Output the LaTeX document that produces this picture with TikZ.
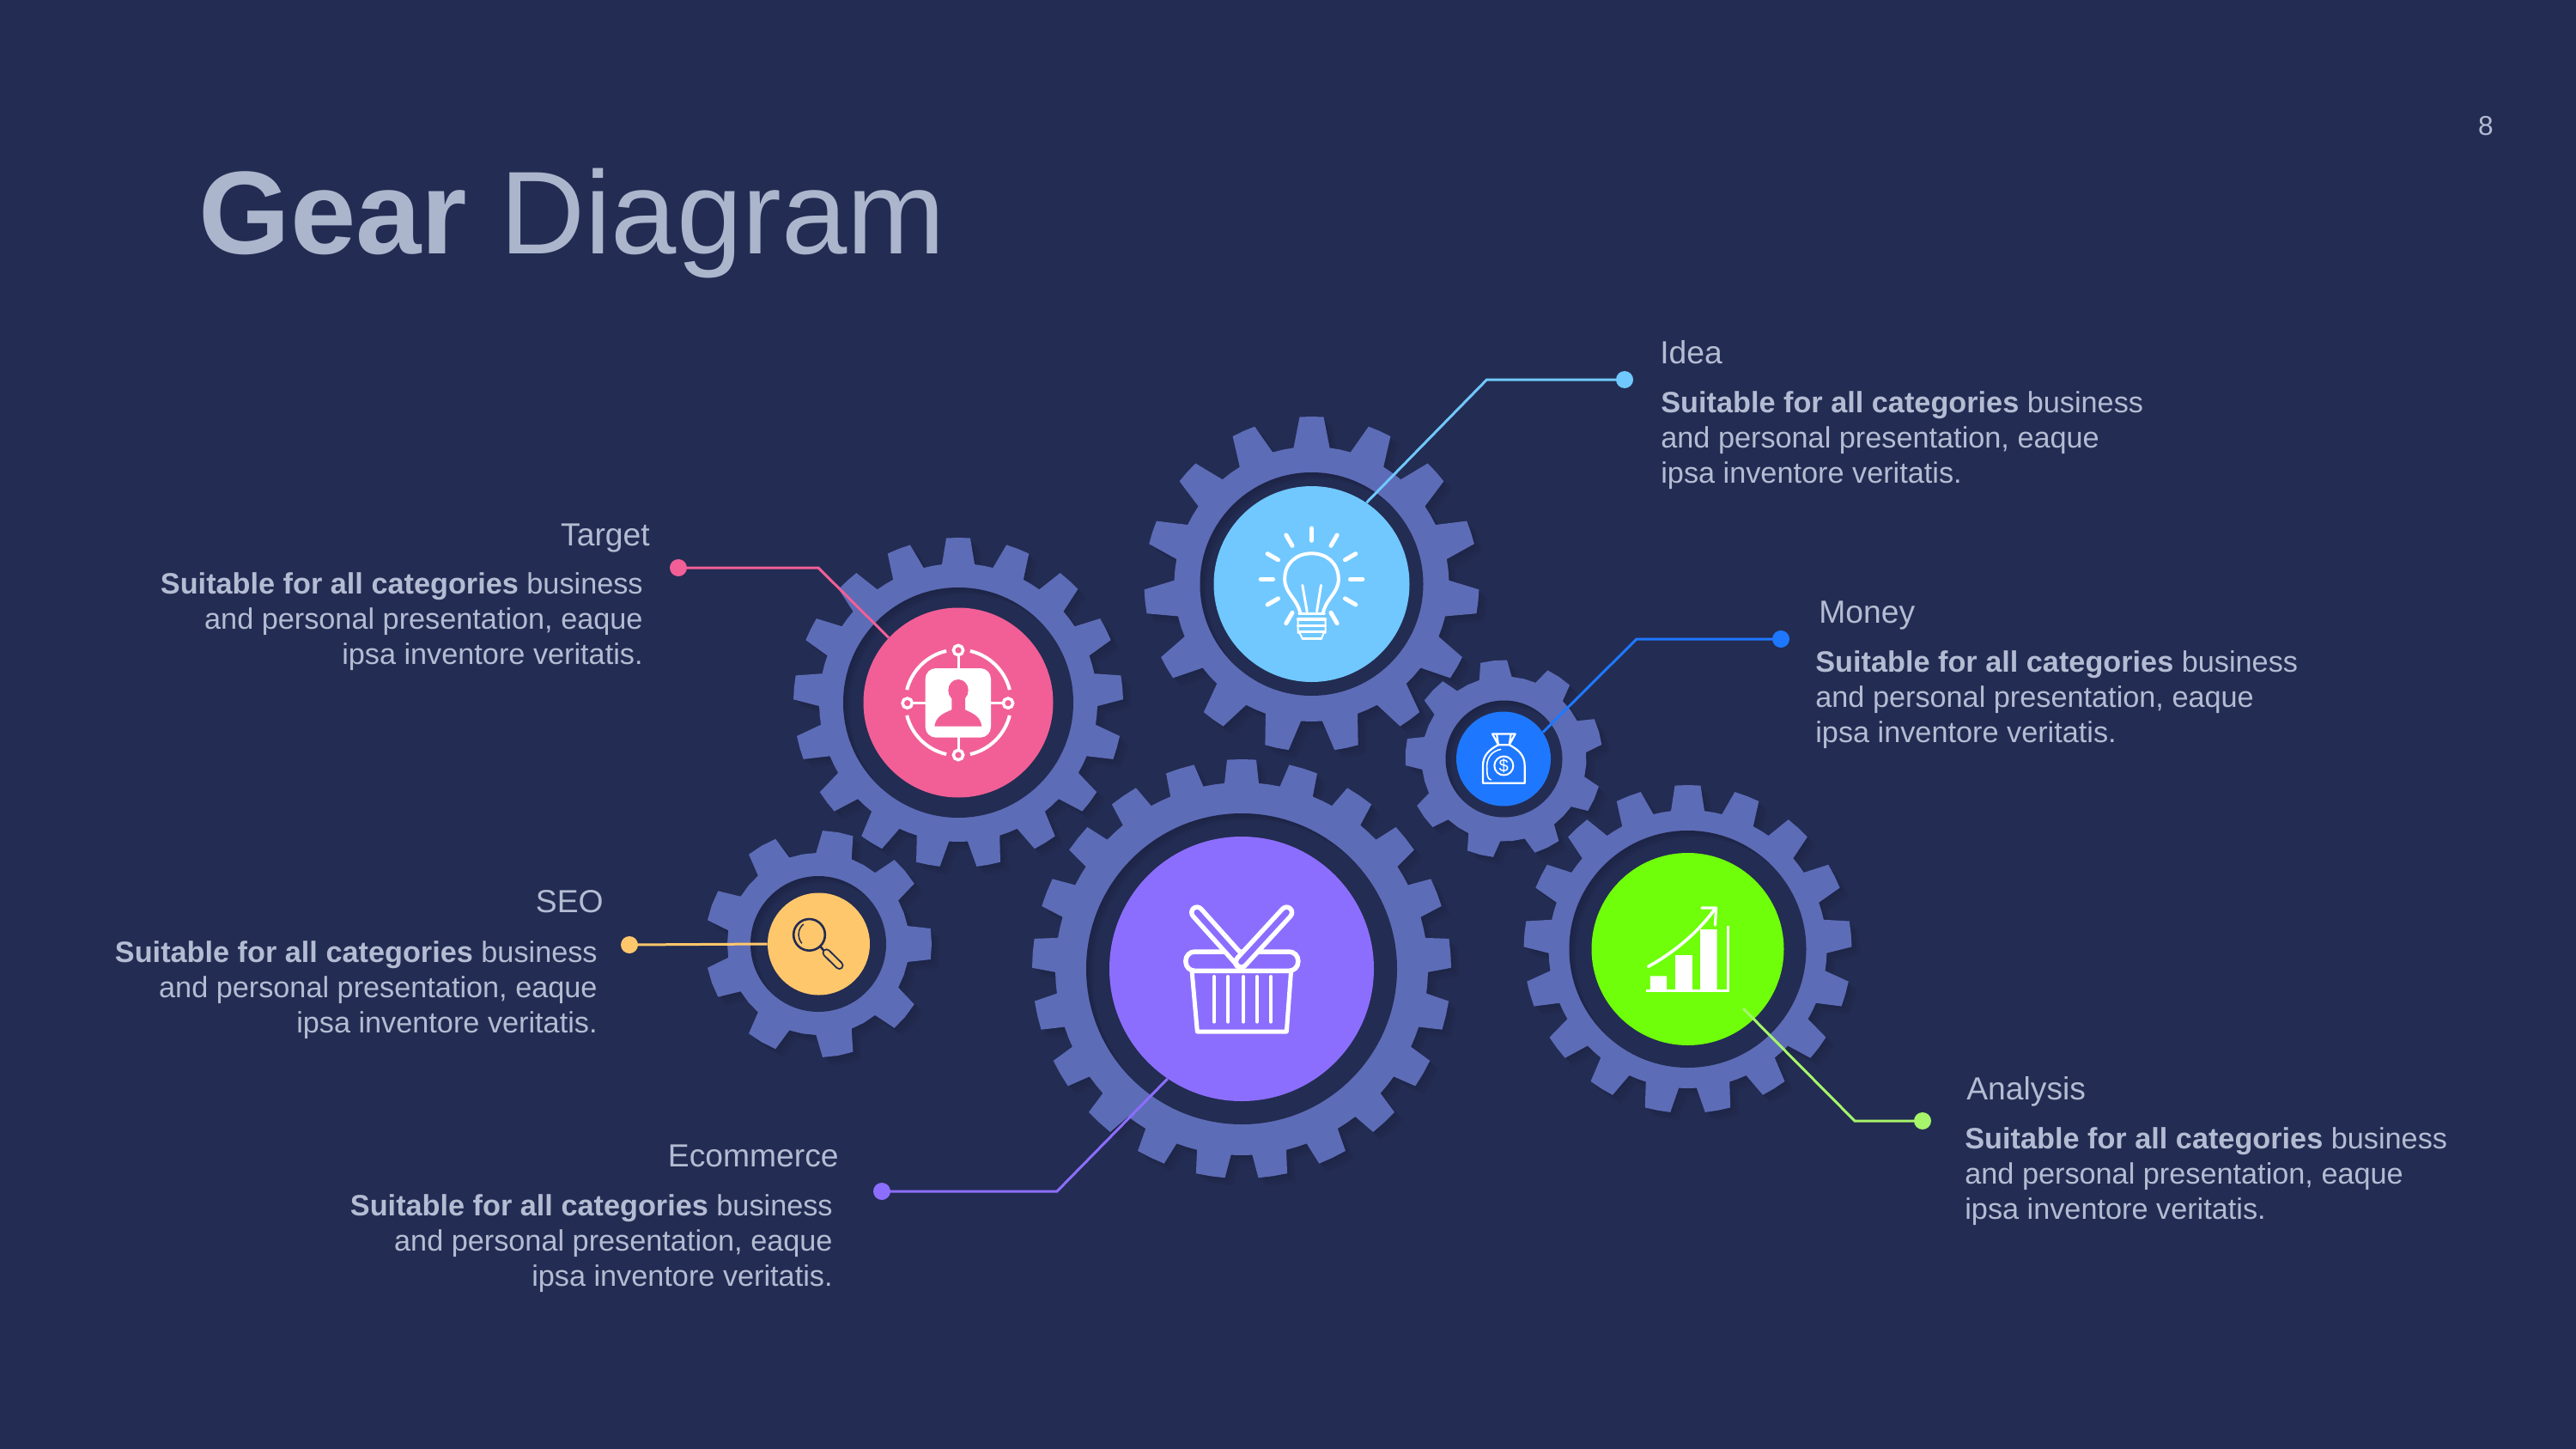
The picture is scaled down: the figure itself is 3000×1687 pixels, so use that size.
\documentclass[tikz,border=0pt]{standalone}
\usepackage{fontspec}
\setmainfont{Liberation Sans}
\definecolor{bgc}{HTML}{232C52}
\definecolor{gearc}{HTML}{5D6CB7}
\definecolor{pinkc}{HTML}{F15F96}
\definecolor{skyc}{HTML}{70C8FF}
\definecolor{purc}{HTML}{8C6EFF}
\definecolor{bluec}{HTML}{1E78FF}
\definecolor{greenc}{HTML}{6FFF0A}
\definecolor{limec}{HTML}{A6F56A}
\definecolor{yelc}{HTML}{FFC76B}
\definecolor{titlec}{HTML}{ABB5CC}
\definecolor{textc}{HTML}{B4BCD3}
\tikzset{
  wpx/.style={line width=#1*0.569pt},
  disc/.style={circle,inner sep=0pt,minimum size=#1*0.02cm},
  enddot/.style={circle,inner sep=0pt,minimum size=0.4cm},
  conn/.style={wpx=3},
  icon/.style={white,wpx=#1,line cap=round,line join=round},
  headtxt/.style={inner sep=0pt,text=textc,font=\fontsize{21.2pt}{25pt}\selectfont},
  desctxt/.style={inner sep=0pt,text=textc,font=\fontsize{19.5pt}{23.33pt}\selectfont},
}
\newcommand\gearoutline{({\gP-\gB}:\gRr) \foreach[evaluate=\k as \a using \gP+\k*\gS] \k in {0,...,\gN} { -- ({\a-\gB}:\gRr) -- ({\a-\gT}:\gRo) -- (\a:\gRo) -- ({\a+\gT}:\gRo) -- ({\a+\gB}:\gRr) -- ({\a+\gS/2}:\gRr) } -- cycle}
% cx cy teeth phase rootR outerR baseW tipW holeR
\newcommand\gearshape[9]{%
  \pgfmathsetmacro\gN{int(#3-1)}%
  \pgfmathsetmacro\gS{360/#3}%
  \def\gP{#4}\def\gRr{#5}\def\gRo{#6}%
  \pgfmathsetmacro\gB{asin(#7/2/#5)}%
  \pgfmathsetmacro\gT{asin(#8/2/#6)}%
  \begin{scope}[shift={(#1,#2)}]
    \foreach \o in {2,4,6,8,10}{
      \begin{scope}[shift={(\o,\o)}]
        \fill[black,opacity=.022] \gearoutline;
      \end{scope}}
    \fill[gearc] \gearoutline;
    \fill[bgc] (0,0) circle[radius=#9];
    \begin{scope}
      \clip (0,0) circle[radius=#9];
      \foreach \o in {2,4,6,8}{
        \fill[black,opacity=.03,even odd rule] (-#9-20,-#9-20) rectangle (#9+20,#9+20) (\o,\o) circle[radius=#9];}
    \end{scope}
  \end{scope}}
\newcommand\descbody{\rule{0pt}{15.4pt}\textbf{Suitable for all categories} business\\and personal presentation, eaque\\ipsa inventore veritatis.}
\begin{document}
\begin{tikzpicture}[x=0.02cm,y=-0.02cm]
\useasboundingbox (0,0) rectangle (3000,1687);
\fill[bgc] (0,0) rectangle (3000,1687);

% gears
\gearshape{953}{1099}{9}{0}{106}{132}{42}{36}{79}
\gearshape{1116}{818}{17}{-90}{162}{192}{38}{28}{134}
\gearshape{1527.5}{680}{15}{-90}{160}{195}{42}{28}{130}
\gearshape{1751.5}{883.5}{9}{-96}{96}{115}{38}{31}{68}
\gearshape{1965.5}{1105}{17}{-90}{162}{191}{39}{30}{138}
\gearshape{1446}{1128}{21}{-90}{217}{244}{40}{34}{181}

% discs
\node[disc=119,fill=yelc] (seo) at (953.5,1099) {};
\node[disc=221,fill=pinkc] (target) at (1116,818) {};
\node[disc=228,fill=skyc] (idea) at (1527.5,680) {};
\node[disc=110,fill=bluec] (money) at (1751,883.5) {};
\node[disc=224,fill=greenc] (analysis) at (1965.5,1105) {};
\node[disc=308,fill=purc] (ecom) at (1446,1128) {};

% connectors
\node[enddot,fill=skyc] (dotIdea) at (1892,442) {};
\node[enddot,fill=pinkc] (dotTarget) at (790,661) {};
\node[enddot,fill=bluec] (dotMoney) at (2074,744) {};
\node[enddot,fill=limec] (dotAnalysis) at (2239,1305) {};
\node[enddot,fill=purc] (dotEcom) at (1027,1387) {};
\node[enddot,fill=yelc] (dotSeo) at (733,1100) {};
\coordinate (elbIdea) at (1731.5,442);
\coordinate (elbTarget) at (953,661);
\coordinate (elbMoney) at (1906,744);
\coordinate (elbAnalysis) at (2160,1305);
\coordinate (endAnalysis) at (2030,1174);
\coordinate (elbEcom) at (1231,1387);
\draw[conn,skyc] (dotIdea.center) -- (elbIdea) -- (idea.56);
\draw[conn,pinkc] (dotTarget.center) -- (elbTarget) -- (target.137);
\draw[conn,bluec] (dotMoney.center) -- (elbMoney) -- (money.34);
\draw[conn,limec] (dotAnalysis.center) -- (elbAnalysis) -- (endAnalysis);
\draw[conn,purc] (dotEcom.center) -- (elbEcom) -- (ecom.236.6);
\draw[conn,yelc] (dotSeo.center) -- (seo.180);

% target icon
\begin{scope}[shift={(1116,818)},scale=1/3,shift={(-648,-655)}]
  \foreach \s/\e in {14/77,103/166,194/257,283/346}{
    \draw[white,wpx=4] (648,655) ++(\s:185) arc[start angle=\s,end angle=\e,radius=185];}
  \draw[icon=3] (648,490) -- (648,535) (648,775) -- (648,820) (490,657) -- (533,657) (762,657) -- (805,657);
  \fill[white,rounded corners=7pt] (533,535) rectangle (762,777);
  \foreach \p in {(648,472),(648,838),(470,657),(822,657)}{
    \draw[white,wpx=3.5,fill=pinkc] \p circle[radius=17];}
  \fill[pinkc] (648,612) ellipse[x radius=35,y radius=38];
  \fill[pinkc] (565,738) .. controls (570,705) and (590,695) .. (625,680) -- (625,640) -- (672,640) -- (672,680) .. controls (705,695) and (725,705) .. (730,738) -- cycle;
\end{scope}

% idea icon
\begin{scope}[shift={(1527.5,680)},scale=1/3,shift={(-622,-629)}]
  \foreach \a in {-90,-60,-30,0,30,60,120,150,180,210,240}{
    \draw[icon=5] (622,612) ++(\a:135) -- ++(\a:43);}
  \draw[icon=4] (582,730) .. controls (572,680) and (528,660) .. (528,612) .. controls (528,555) and (570,522) .. (622,522) .. controls (674,522) and (716,555) .. (716,612) .. controls (716,660) and (672,680) .. (662,730);
  \draw[icon=3] (590,633) -- (606,725) (655,633) -- (640,725);
  \draw[icon=3.2] (578,732) -- (666,732) (574,752) -- (670,752) (574,774) -- (670,774) (578,796) -- (666,796) (590,820) -- (656,820);
  \draw[icon=2] (574,752) -- (574,800) (670,752) -- (670,800) (578,796) -- (590,820) (666,796) -- (656,820);
\end{scope}

% money icon
\begin{scope}[shift={(1751,883.5)},scale=1/3,shift={(-332,-371)}]
  \draw[icon=2.2] (293,284) -- (373,284) -- (352,322) -- (314,322) -- cycle (314,322) -- (308,284) (352,322) -- (358,284);
  \draw[icon=2.2] (314,322) .. controls (280,340) and (260,360) .. (260,395) -- (260,456) -- (406,456) -- (406,395) .. controls (406,360) and (386,340) .. (352,322);
  \draw[icon=1.6] (288,444) .. controls (276,442) and (274,430) .. (274,395) .. controls (274,365) and (295,342) .. (322,338);
  \draw[icon=2] (333,395) circle[radius=33];
  \node[inner sep=0pt,text=white,font=\fontsize{11.5pt}{12pt}\selectfont] (dollar) at (333,395) {\$};
\end{scope}

% analysis icon
\begin{scope}[shift={(1965.5,1105)},scale=1/3,shift={(-616,-584)}]
  \draw[white,wpx=3.2] (470,730) -- (757,730) -- (757,502);
  \fill[white] (485,678) rectangle (543,728) (573,605) rectangle (632,728) (660,515) rectangle (718,728);
  \draw[icon=3.6] (478,645) .. controls (560,600) and (650,530) .. (712,442);
  \draw[icon=3.2] (665,440) -- (715,440) -- (712,500);
\end{scope}

% ecommerce icon
\begin{scope}[shift={(1446,1128)},xscale=1/2.904,yscale=1/3,shift={(-773,-745)}]
  \draw[white,wpx=5,fill=purc,line join=round] (605,755) -- (623,964) -- (925,964) -- (940,755);
  \foreach \x in {680,727,779,825,872}{
    \draw[icon=4] (\x,772) -- (\x,930);}
  \draw[white,wpx=5.5,fill=purc,rounded corners=6pt] (584,685) rectangle (964,752);
  \draw[white,line cap=round,wpx=18] (622,548) -- (770,718);
  \draw[purc,line cap=round,wpx=7] (622,548) -- (768,716);
  \draw[white,line cap=round,wpx=18] (925,548) -- (770,722);
  \draw[purc,line cap=round,wpx=7] (925,548) -- (772,720);
\end{scope}

% seo icon
\begin{scope}[shift={(953.5,1099)},scale=1/3,shift={(-431,-417)}]
  \draw[bgc,wpx=2.6] (398,385) circle[radius=55];
  \draw[bgc,wpx=1.5] (372,415) .. controls (355,395) and (358,362) .. (378,348);
  \draw[bgc,wpx=2.6] (436,425) -- (450,442);
  \draw[bgc,line cap=round,wpx=10] (458,448) -- (503,492);
  \draw[yelc,line cap=round,wpx=6] (458,448) -- (503,492);
\end{scope}

% texts
\node[anchor=base west,inner sep=0pt,text=titlec,font=\fontsize{78.1pt}{90pt}\selectfont] (title) at (231,295.7) {\textbf{Gear} Diagram};
\node[inner sep=0pt,text=textc,font=\fontsize{18pt}{20pt}\selectfont] (pageno) at (2895,147) {8};

\node[headtxt,anchor=base west] (hIdea) at (1933,423) {Idea};
\node[desctxt,anchor=north west,align=left] (tIdea) at (1934,453) {\descbody};
\node[headtxt,anchor=base east] (hTarget) at (757,635) {Target};
\node[desctxt,anchor=north east,align=right] (tTarget) at (749,664) {\descbody};
\node[headtxt,anchor=base west] (hMoney) at (2118,725) {Money};
\node[desctxt,anchor=north west,align=left] (tMoney) at (2114,755) {\descbody};
\node[headtxt,anchor=base east] (hSeo) at (703,1062) {SEO};
\node[desctxt,anchor=north east,align=right] (tSeo) at (696,1093) {\descbody};
\node[headtxt,anchor=base east] (hEcom) at (977,1358.5) {Ecommerce};
\node[desctxt,anchor=north east,align=right] (tEcom) at (970,1388) {\descbody};
\node[headtxt,anchor=base west] (hAnalysis) at (2290,1280) {Analysis};
\node[desctxt,anchor=north west,align=left] (tAnalysis) at (2288,1310) {\descbody};
\end{tikzpicture}
\end{document}
